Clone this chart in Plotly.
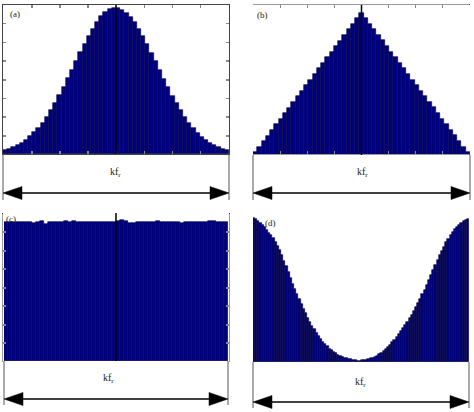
import plotly.graph_objects as go

# ---------------- data (bar heights, % of axis height) ----------------
hist_a = [2.6, 3.5, 4.6, 6.0, 7.6, 9.5, 11.8, 14.5, 17.6, 21.0, 25.0, 29.4, 34.2, 39.5,
          45.0, 50.8, 56.6, 62.5, 68.4, 74.1, 79.5, 84.2, 88.7, 92.3, 95.1, 97.0, 98.0,
          97.8, 96.8, 94.9, 92.0, 88.4, 84.0, 79.2, 73.8, 68.1, 62.2, 56.3, 50.4, 44.7,
          39.2, 34.0, 29.3, 24.9, 21.0, 17.5, 14.4, 11.7, 9.5, 7.6, 6.0, 4.7, 3.6, 2.7]

hist_b = [1.9, 5.6, 9.4, 13.0, 16.7, 20.5, 24.3, 27.9, 31.6, 35.4, 39.2, 42.8, 46.5,
          50.3, 54.1, 57.7, 61.4, 65.2, 69.0, 72.6, 76.3, 80.1, 83.9, 87.5, 91.2, 95.0,
          91.3, 87.6, 83.8, 80.0, 76.4, 72.7, 68.9, 65.1, 61.5, 57.8, 54.0, 50.2, 46.6,
          42.9, 39.1, 35.3, 31.7, 28.0, 24.2, 20.4, 16.8, 13.1, 9.3, 5.5, 1.8]

hist_c = [94.0, 93.6, 93.7, 93.9, 94.2, 93.8, 94.1, 93.5, 93.9, 94.3, 92.9, 93.8, 93.6,
          94.0, 93.7, 94.4, 93.9, 94.5, 93.8, 94.0, 93.6, 94.1, 93.7, 94.0, 93.9, 94.2,
          93.8, 93.7, 94.3, 95.3, 94.6, 93.4, 93.0, 93.8, 93.9, 94.0, 93.7, 94.1, 94.3,
          93.9, 93.8, 93.6, 94.0, 93.8, 93.3, 93.7, 94.0, 93.9, 94.2, 93.8, 93.6, 94.3,
          94.4, 94.1, 94.2, 94.0]

hist_d = [97.0, 96.5, 95.5, 94.0, 92.5, 91.0, 89.0, 87.5, 85.5, 83.5,
          81.0, 78.5, 75.5, 72.0, 68.5, 65.0, 61.0, 57.0, 53.0, 49.5,
          46.0, 42.5, 39.0, 36.0, 33.0, 30.0, 27.0, 24.5, 22.0, 19.5,
          17.5, 15.5, 13.5, 12.0, 10.5, 9.0, 8.0, 7.0, 6.0, 5.0,
          4.2, 3.5, 3.0, 2.5, 2.0, 1.7, 1.4, 1.2, 1.0, 1.0,
          1.1, 1.3, 1.6, 2.0, 2.5, 3.0, 3.6, 4.3, 5.2, 6.2,
          7.3, 8.6, 10.0, 11.5, 13.2, 15.0, 16.8, 18.7, 20.7, 22.8,
          25.0, 27.2, 29.5, 32.0, 34.5, 37.0, 39.8, 42.7, 45.7, 48.8,
          52.0, 55.3, 58.7, 62.0, 65.5, 68.8, 72.0, 75.0, 78.0, 80.8,
          83.3, 85.6, 87.7, 89.6, 91.3, 92.8, 94.0, 95.0, 95.8, 96.5]

panel_labels = ["(a)", "(b)", "(c)", "(d)"]
axis_label = "kf<sub>r</sub>"

# ---------------- layout helpers ----------------
W, H = 474, 412
def px(x): return x / W
def py(y): return 1 - y / H

FONT = "Liberation Serif, Times New Roman, serif"
BAR = "#000080"
# pixel boxes: (left, right, top, baseline, arrow_y, bottom_of_side_lines)
boxes = [
    (3, 229, 5, 154, 193, 200),
    (253, 470, 5, 155, 193, 200),
    (4, 228, 213, 361, 399, 405),
    (253, 469, 214, 362, 402, 408),
]
frame_cols = ["#444444", "#444444", "#444444", "#9a9a9a"]
center_line = [True, True, True, False]
label_pos = [(15, 14), (262, 15), (11, 219), (270, 223)]
kf_pos = [(115, 173), (362, 172), (108, 378), (360, 382)]

fig = go.Figure()
shapes = []
annotations = []
datasets = [hist_a, hist_b, hist_c, hist_d]

for i, (vals, box) in enumerate(zip(datasets, boxes)):
    n = len(vals)
    xs = list(range(n))
    ax = "" if i == 0 else str(i + 1)
    fig.add_trace(go.Bar(x=xs, y=vals, xaxis="x" + ax, yaxis="y" + ax,
                         marker=dict(color=BAR, line=dict(color="#00003c", width=0.6)),
                         showlegend=False, hoverinfo="skip"))
    L, R, T, B, AY, SB = box
    tickv = [-0.5 + n * k / 8 for k in range(1, 8)]
    fig.update_layout(**{
        "xaxis" + ax: dict(domain=[px(L), px(R)], range=[-0.5, n - 0.5],
                           showgrid=False, zeroline=False, showline=True, mirror="ticks",
                           linecolor=frame_cols[i], linewidth=1,
                           ticks="inside", ticklen=3, tickcolor="#888",
                           tickvals=tickv, showticklabels=False, fixedrange=True),
        "yaxis" + ax: dict(domain=[py(B), py(T)], range=[0, 100],
                           showgrid=False, zeroline=False, showline=True, mirror="ticks",
                           linecolor=frame_cols[i], linewidth=1,
                           ticks="inside", ticklen=3, tickcolor="#888",
                           tickvals=[12.5 * k for k in range(1, 8)],
                           showticklabels=False, fixedrange=True),
    })
    # centre line
    if center_line[i]:
        shapes.append(dict(type="line", xref="x" + ax, yref="y" + ax,
                           x0=(n - 1) / 2, x1=(n - 1) / 2, y0=0, y1=100,
                           line=dict(color="black", width=1.5), layer="above"))
    # side lines below the plot
    for xx in (L, R):
        shapes.append(dict(type="line", xref="paper", yref="paper",
                           x0=px(xx), x1=px(xx), y0=py(B), y1=py(SB),
                           line=dict(color="#555", width=1)))
    # double arrow
    hl, hh = 19, 6.5
    shapes.append(dict(type="line", xref="paper", yref="paper",
                       x0=px(L + hl - 2), x1=px(R - hl + 2), y0=py(AY), y1=py(AY),
                       line=dict(color="black", width=1.6)))
    for tip, base in ((L, L + hl), (R, R - hl)):
        path = "M {} {} L {} {} L {} {} Z".format(px(tip), py(AY), px(base), py(AY - hh),
                                               px(base), py(AY + hh))
        shapes.append(dict(type="path", xref="paper", yref="paper", path=path,
                           fillcolor="black", line=dict(color="black", width=0.5)))
    # texts
    lx, ly = label_pos[i]
    annotations.append(dict(text=panel_labels[i], xref="paper", yref="paper",
                            x=px(lx), y=py(ly), xanchor="center", yanchor="middle",
                            showarrow=False,
                            font=dict(family=FONT, size=9, color="#222")))
    kx, ky = kf_pos[i]
    annotations.append(dict(text=axis_label, xref="paper", yref="paper",
                            x=px(kx), y=py(ky), xanchor="center", yanchor="middle",
                            showarrow=False,
                            font=dict(family=FONT, size=10, color="#222")))

fig.update_layout(width=W, height=H, margin=dict(l=0, r=0, t=0, b=0),
                  font=dict(family=FONT, size=10, color="#222"),
                  paper_bgcolor="white", plot_bgcolor="white",
                  bargap=0, shapes=shapes, annotations=annotations)

fig.write_html("out.html", config={"displayModeBar": False},
               post_script="document.body.style.margin='0';document.body.style.padding='0';")
